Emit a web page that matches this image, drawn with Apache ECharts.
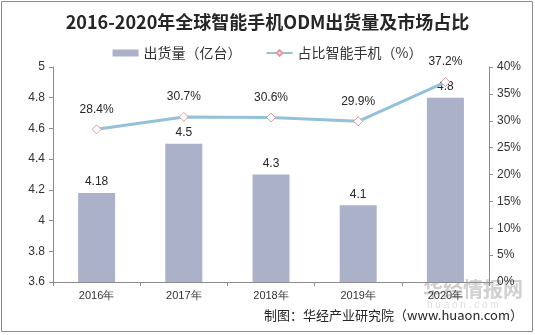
<!DOCTYPE html>
<html>
<head>
<meta charset="utf-8">
<script src="https://cdn.jsdelivr.net/npm/echarts@6/dist/echarts.min.js"></script>
<style>
  html, body { margin: 0; padding: 0; background: #fff; }
  #chart { width: 535px; height: 335px; }
</style>
</head>
<body>
<div id="chart"></div>
<script>
// 年份
const years = ['2016年', '2017年', '2018年', '2019年', '2020年'];
// 出货量（亿台）
const shipments = [4.18, 4.5, 4.3, 4.1, 4.8];
// 占比智能手机（%）
const shares = [28.4, 30.7, 30.6, 29.9, 37.2];

const chart = echarts.init(document.getElementById('chart'));
const axisGray = '#8c8c8c';

const option = {
    backgroundColor: '#fff',
    animation: false,
    title: {
        text: '2016-2020年全球智能手机ODM出货量及市场占比',
        left: 'center',
        top: 8,
        textStyle: { fontFamily: 'Noto Sans CJK SC', fontSize: 18, fontWeight: 'bold', color: '#262626' }
    },
    legend: {
        top: 41,
        left: 'center',
        itemGap: 24,
        itemWidth: 26,
        itemHeight: 7,
        textStyle: { fontFamily: 'Noto Sans CJK SC', fontSize: 14, color: '#333' },
        data: [
            { name: '出货量（亿台）', icon: 'rect' },
            { name: '占比智能手机（%）' }
        ]
    },
    grid: { left: 53, right: 46, top: 67, bottom: 53 },
    xAxis: {
        type: 'category',
        data: years,
        axisLine: { lineStyle: { color: axisGray } },
        axisTick: { show: true, length: 4, lineStyle: { color: axisGray } },
        axisLabel: { color: '#333', fontSize: 11, fontFamily: 'Liberation Sans', margin: 8 }
    },
    yAxis: [
        {
            type: 'value',
            min: 3.6,
            max: 5,
            interval: 0.2,
            splitLine: { show: false },
            axisLine: { show: true, lineStyle: { color: axisGray } },
            axisTick: { show: true, length: 4, lineStyle: { color: axisGray } },
            axisLabel: {
                color: '#333', fontSize: 12, fontFamily: 'Liberation Sans', margin: 8,
                formatter: v => parseFloat(v.toFixed(1)).toString()
            }
        },
        {
            type: 'value',
            min: 0,
            max: 40,
            interval: 5,
            splitLine: { show: false },
            axisLine: { show: true, lineStyle: { color: axisGray } },
            axisTick: { show: true, length: 4, lineStyle: { color: axisGray } },
            axisLabel: { color: '#333', fontSize: 12, fontFamily: 'Liberation Sans', margin: 8, formatter: '{value}%' }
        }
    ],
    series: [
        {
            name: '出货量（亿台）',
            type: 'bar',
            data: shipments,
            barWidth: 37,
            itemStyle: { color: '#aab1c8' },
            label: {
                show: true, position: 'top', distance: 5,
                color: '#262626', fontSize: 12, fontFamily: 'Liberation Sans'
            }
        },
        {
            name: '占比智能手机（%）',
            type: 'line',
            yAxisIndex: 1,
            data: shares,
            symbol: 'diamond',
            symbolSize: 9,
            lineStyle: { color: '#93c1da', width: 3 },
            itemStyle: { color: '#fff', borderColor: '#e39b9b', borderWidth: 1 },
            label: {
                show: true, position: 'top', distance: 9,
                color: '#262626', fontSize: 12, fontFamily: 'Liberation Sans',
                formatter: p => p.value.toFixed(1) + '%'
            },
            z: 5
        }
    ],
    graphic: [
        {
            type: 'rect',
            shape: { x: 1.5, y: 1.5, width: 531, height: 330 },
            style: { fill: 'none', stroke: '#8c8c8c', lineWidth: 1 },
            silent: true
        },
        {
            type: 'text',
            left: 423, top: 279,
            style: { text: '华经情报网', fill: 'rgba(170,170,170,0.55)', font: 'bold 20px "Noto Sans CJK SC"' },
            silent: true
        },
        {
            type: 'text',
            left: 427, top: 300,
            style: { text: 'h u a o n . c o m', fill: 'rgba(190,190,190,0.5)', font: '10px "Liberation Sans"' },
            silent: true
        },
        {
            type: 'text',
            right: 12, top: 309,
            style: { text: '制图：华经产业研究院（www.huaon.com）', fill: '#262626', font: '13px "Noto Sans CJK SC"' },
            silent: true
        }
    ]
};

chart.setOption(option);
window.addEventListener('resize', () => chart.resize());
</script>
</body>
</html>
